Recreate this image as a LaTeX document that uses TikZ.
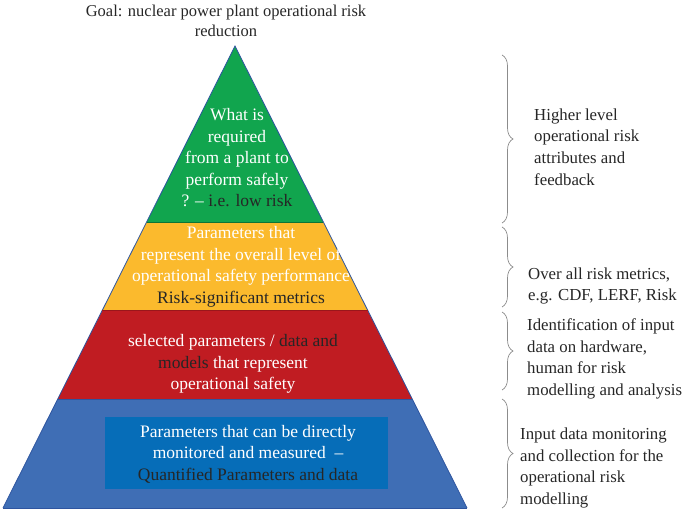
\documentclass[tikz,border=0pt]{standalone}
\usepackage{fontspec}
\setmainfont{Liberation Serif}
\usetikzlibrary{decorations.pathreplacing}
\definecolor{pgreen}{HTML}{11A54E}
\definecolor{pyellow}{HTML}{FBBA2D}
\definecolor{pred}{HTML}{C01C22}
\definecolor{pblue}{HTML}{3F6EB5}
\definecolor{pbox}{HTML}{066DB8}
\definecolor{pedge}{HTML}{2E55A0}
\definecolor{dk}{HTML}{262626}
\definecolor{brc}{HTML}{8C8C8C}
\tikzset{
  layer/.style={draw=pedge, line width=0.8pt},
  lbl/.style={align=center, font=\fontsize{17.5}{21.5}\selectfont, text=white, inner sep=0pt},
  side/.style={align=left, font=\fontsize{16.8}{21.7}\selectfont, text=dk, inner sep=0pt, anchor=west},
  brace/.style={draw=brc, line width=0.7pt, decorate, decoration={brace, amplitude=11pt}}
}
\begin{document}
\begin{tikzpicture}[x=1pt, y=-1pt]
\useasboundingbox (0,0) rectangle (685,509);
% layers
\fill[pblue] (3,508) -- (57.7,399) -- (412.3,399) -- (467,508) -- cycle;
\fill[pred] (57.7,399) -- (102.4,310) -- (367.6,310) -- (412.3,399) -- cycle;
\fill[pyellow] (102.4,310) -- (146.6,222) -- (323.4,222) -- (367.6,310) -- cycle;
\fill[pgreen] (146.6,222) -- (235,46) -- (323.4,222) -- cycle;
\draw[layer] (3,508) -- (235,46) -- (467,508);
\draw[pedge, line width=1pt] (3,508) -- (467,508);
\draw[pgreen!70!black, line width=0.6pt] (146.6,222) -- (323.4,222);
\draw[pred!80!black, line width=0.6pt] (102.4,310) -- (367.6,310);
\draw[pedge, line width=0.6pt] (57.7,399) -- (412.3,399);
\fill[pbox] (105,417) rectangle (388,489);
% title
\node[lbl, text=dk, font=\fontsize{16.5}{19.5}\selectfont] (title) at (226,21) {Goal: nuclear power plant operational risk\\reduction};
% layer texts
\node[lbl] (g) at (237,158) {What is\\required\\from a plant to\\perform safely\\? -- \textcolor{dk}{i.e. low risk}};
\node[lbl] (y) at (241,267) {Parameters that\\represent the overall level of\\operational safety performance\\\textcolor{dk}{Risk-significant metrics}};
\node[lbl] (r) at (233,364) {selected parameters / \textcolor{dk}{data and}\\\textcolor{dk}{models} that represent\\operational safety};
\node[lbl] (b) at (248,454) {Parameters that can be directly\\monitored and measured~ --\\\textcolor{dk}{Quantified Parameters and data}};
% braces
\coordinate (b1t) at (502,55); \coordinate (b1b) at (502,223);
\coordinate (b2t) at (502,227); \coordinate (b2b) at (502,307);
\coordinate (b3t) at (502,312); \coordinate (b3b) at (502,390);
\coordinate (b4t) at (502,399); \coordinate (b4b) at (502,508);
\draw[brace] (b1t) -- (b1b);
\draw[brace] (b2t) -- (b2b);
\draw[brace] (b3t) -- (b3b);
\draw[brace] (b4t) -- (b4b);
% side texts
\node[side] (s1) at (534,147) {Higher level\\operational risk\\attributes and\\feedback};
\node[side] (s2) at (528,286) {Over all risk metrics,\\e.g. CDF, LERF, Risk};
\node[side] (s3) at (527,359) {Identification of input\\data on hardware,\\human for risk\\modelling and analysis};
\node[side] (s4) at (520,468) {Input data monitoring\\and collection for the\\operational risk\\modelling};
\end{tikzpicture}
\end{document}
